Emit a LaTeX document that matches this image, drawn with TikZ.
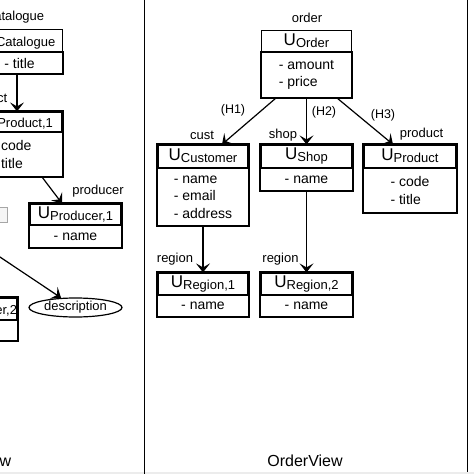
\documentclass[tikz,border=0pt]{standalone}
\usepackage{fontspec}
\setmainfont{Liberation Sans}
\usetikzlibrary{arrows.meta,shapes.geometric}
\newcommand\uhd[1]{{\fontsize{17}{17}\selectfont U}\raisebox{-2pt}{\fontsize{13}{13}\selectfont #1}}
\tikzset{
  hdr/.style={draw, line width=2.6pt, inner sep=0pt, outer sep=0pt, fill=white},
  hdrthin/.style={draw, line width=1.2pt, inner sep=0pt, outer sep=0pt, fill=white},
  body/.style={draw, line width=1.2pt, inner sep=0pt, outer sep=0pt, align=left,
    font=\fontsize{14}{17.5}\selectfont},
  lbl/.style={font=\fontsize{13}{13}\selectfont, inner sep=0pt},
  hlbl/.style={font=\fontsize{12.5}{12.5}\selectfont, inner sep=0pt},
  conn/.style={line width=1.2pt, -{Stealth[length=9pt,width=14pt,inset=4pt]}},
  frame/.style={line width=1.5pt},
}
% #1 name, #2 cx, #3 width, #4 ytop, #5 ymid, #6 ybot, #7 header style, #8 header text, #9 body text
\newcommand\umlclass[9]{%
  \node[body, minimum width={#3}, minimum height={#6-#5}] (#1b) at (#2,{(#5+#6)/2}) {#9};
  \node[#7, minimum width={#3-1.4}, minimum height={#5-#4-1.4}] (#1h) at (#2,{(#4+#5)/2+0.7}) {#8};
}
\begin{document}
\begin{tikzpicture}[x=1pt,y=-1pt]
\useasboundingbox (0,0) rectangle (474,474);
\fill[gray!15] (0,471.5) rectangle (474,474);
% frame lines
\draw[frame] (144.5,0) -- (144.5,474);
\draw[frame] (467.5,0) -- (467.5,471.5);

% ---------- OrderView ----------
\umlclass{ord}{306.5}{91}{29}{52}{98}{hdrthin}{\uhd{Order}}{- amount\\- price}
\umlclass{cus}{203}{92}{143}{168}{226}{hdr}{\uhd{Customer}}{- name\\- email\\- address}
\umlclass{shp}{306.5}{93}{143}{168}{191}{hdr}{\uhd{Shop}}{- name}
\umlclass{prd}{410}{94}{143}{168}{213}{hdr}{\uhd{Product}}{- code\\- title}
\umlclass{rga}{203}{92}{271}{295}{317}{hdr}{\uhd{Region,1}}{- name}
\umlclass{rgb}{306.5}{93}{271}{295}{317}{hdr}{\uhd{Region,2}}{- name}

\node[lbl] (lord) at (307,17.5) {order};
\node[lbl] (lcus) at (202,135) {cust};
\node[lbl] (lshp) at (283,135) {shop};
\node[lbl] (lprd) at (421.5,134) {product};
\node[lbl] (lrga) at (175,259) {region};
\node[lbl] (lrgb) at (280.5,259) {region};
\node[hlbl] (h1) at (233,110) {(H1)};
\node[hlbl] (h2) at (324,112) {(H2)};
\node[hlbl] (h3) at (383,115) {(H3)};

\draw[conn] ([xshift=-30.5pt]ordb.south) -- ([xshift=19pt]cush.north);
\draw[conn] (ordb.south) -- (shph.north);
\draw[conn] ([xshift=30.5pt]ordb.south) -- ([xshift=-17pt]prdh.north);
\draw[conn] (cusb.south) -- (rgah.north);
\draw[conn] (shpb.south) -- (rgbh.north);

\node[font=\fontsize{16}{16}\selectfont, inner sep=0pt] (ovw) at (305,461) {OrderView};

% ---------- left view (cut off) ----------
\umlclass{cat}{19.5}{87}{28}{52}{74}{hdrthin}{\uhd{Catalogue}}{- title}
\umlclass{pra}{19}{88}{110}{132}{177}{hdr}{\uhd{Product,1}}{\hspace*{-14pt}- code\\\hspace*{-14pt}- title}
\umlclass{pdc}{75.5}{93}{202}{225}{248}{hdr}{\uhd{Producer,1}}{- name}
\umlclass{pdd}{-28}{92}{296}{320}{341}{hdr}{\makebox[90pt][r]{\uhd{Producer,2}}}{- name}

\node[draw=gray!70, line width=1pt, fill=gray!8, minimum width=30pt, minimum height=15pt, inner sep=0pt] (gbox) at (-8,214.5) {};

\node[lbl] (lcat) at (16,17.5) {catalogue};
\node[lbl] (lpra) at (-14.5,99.5) {product};
\node[lbl] (lpdc) at (98,191) {producer};

\node[draw, ellipse, line width=1.2pt, minimum width=93pt, minimum height=19pt, inner sep=0pt,
  font=\fontsize{13}{13}\selectfont] (desc) at (75.5,307.5) {description};

\draw[conn] ([xshift=-2.5pt]catb.south) -- ([xshift=-2pt]prah.north);
\draw[conn] ([xshift=23pt]prab.south) -- ([xshift=-13.5pt]pdch.north);
\coordinate (dsrc) at (-15,247);
\draw[conn] (dsrc) -- (desc);

\node[font=\fontsize{16}{16}\selectfont, inner sep=0pt, anchor=east] (lvw) at (11.5,461) {ProductView};
\end{tikzpicture}
\end{document}
